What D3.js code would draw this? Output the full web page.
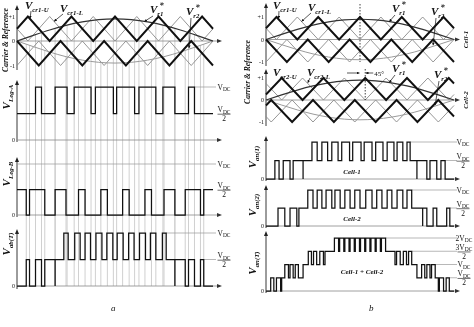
<!DOCTYPE html>
<html><head><meta charset="utf-8">
<script src="https://cdn.jsdelivr.net/npm/d3@7"></script>
<style>
html,body{margin:0;padding:0;background:#fff;}
svg{display:block;will-change:transform;}
text{font-family:"Liberation Serif","Times New Roman",serif;fill:#111;}
</style></head><body>
<svg id="fig" width="474" height="327"></svg>
<script>
// ---- Data: one half cycle of the fundamental, phase angle in degrees ----
const refAngles  = [0, 15, 30, 45, 60, 75, 90, 105, 120, 135, 150, 165, 180];
const ref1Values = [0, 0.23, 0.45, 0.64, 0.78, 0.87, 0.90, 0.87, 0.78, 0.64, 0.45, 0.23, 0];
const ref2Values = [0, -0.23, -0.45, -0.64, -0.78, -0.87, -0.90, -0.87, -0.78, -0.64, -0.45, -0.23, 0];

// Carrier vertices [angle, value] – cell 1 (also used in the single-cell plot)
const c1UpperThick = [[0,0.5],[10,1],[30,0],[50,1],[70,0],[90,1],[110,0],[130,1],[150,0],[170,1],[180,0.5]];
const c1UpperThin  = [[0,0.5],[10,0],[30,1],[50,0],[70,1],[90,0],[110,1],[130,0],[150,1],[170,0],[180,0.5]];
const c1LowerThick = [[0,0],[20,-1],[40,0],[60,-1],[80,0],[100,-1],[120,0],[140,-1],[160,0],[180,-1]];
const c1LowerThin  = [[0,-1],[20,0],[40,-1],[60,0],[80,-1],[100,0],[120,-1],[140,0],[160,-1],[180,0]];
// Cell 2 carriers, displaced by 45° of the carrier period
const c2UpperThick = [[0,0.25],[15,1],[35,0],[55,1],[75,0],[95,1],[115,0],[135,1],[155,0],[175,1],[180,0.75]];
const c2UpperThin  = [[0,0.75],[15,0],[35,1],[55,0],[75,1],[95,0],[115,1],[135,0],[155,1],[175,0],[180,0.25]];
const c2LowerThick = [[0,-0.25],[5,0],[25,-1],[45,0],[65,-1],[85,0],[105,-1],[125,0],[145,-1],[165,0],[180,-0.75]];
const c2LowerThin  = [[0,-0.75],[5,-1],[25,0],[45,-1],[65,0],[85,-1],[105,0],[125,-1],[145,0],[165,-1],[180,-0.25]];

// Switched voltages as [angle, level] steps, level in units of V_DC/2
const legASteps = [[0,1],[17,2],[22.5,1],[35,2],[46,1],[52.5,2],[68,1],[72,2],[88.5,1],[91.5,2],[108,1],[112,2],[127.5,1],[134,2],[145,1],[157.5,2],[163,1],[180,1]];
const legBSteps = [[0,1],[8.5,0],[11.5,1],[25.5,0],[35,1],[45,0],[56.5,1],[62.5,0],[77,1],[83,0],[97,1],[103,0],[117.5,1],[123.5,0],[135,1],[145,0],[154.5,1],[168.5,0],[171.5,1],[180,1]];
const vabSteps  = [[0,0],[8.5,1],[11.5,0],[17,1],[22.5,0],[25.5,1],[35,0],[35,1],[43,2],[47,1],[53,2],[58,1],[62.5,2],[67.5,1],[72.5,2],[78,1],[82.5,2],[88,1],[92,2],[97.5,1],[102.5,2],[107.5,1],[112.5,2],[118,1],[122.5,2],[127.5,1],[133.5,2],[137,1],[145,0],[145,1],[154.5,0],[157.5,1],[163,0],[168.5,1],[171.5,0],[180,0]];
const an1Steps  = [[0,0],[8.5,1],[12.5,0],[16.5,1],[23,0],[26,1],[35.5,0],[35.5,1],[44,2],[49,1],[53.5,2],[59,1],[63,2],[69,1],[72.5,2],[80,1],[83,2],[91,1],[94,2],[101.5,1],[105,2],[112,1],[116,2],[122.5,1],[125.5,2],[131,1],[135,2],[138,1],[144.5,0],[144.5,1],[154,0],[157,1],[163.5,0],[167.5,1],[171.5,0],[180,0]];
const an2Steps  = [[0,0],[11.5,1],[18,0],[23,1],[29.5,0],[31.5,1],[40,2],[45,1],[49,2],[53.5,1],[57.5,2],[63,1],[66,2],[71,1],[75.5,2],[80.5,1],[85,2],[90,1],[95.5,2],[101.5,1],[106,2],[111,1],[116,2],[120.5,1],[125.5,2],[131,1],[135,2],[139.5,1],[150,0],[150,1],[154,0],[160,1],[163.5,0],[173,1],[176,0],[180,0]];
const anTSteps  = [[0,0],[4.5,1],[7.5,0],[10,1],[14,0],[15,1],[18,2],[21.5,1],[23,2],[26,1],[28,2],[31,1],[35.5,2],[40.5,3],[43.5,2],[45.5,3],[48.5,2],[51.5,3],[55,2],[56.5,3],
  [65.5,4],[69.5,3],[70.5,4],[74.5,3],[75.5,4],[79.5,3],[80.5,4],[84.5,3],[85.5,4],[89.5,3],[90.5,4],[94.5,3],[95.5,4],[99.5,3],[100.5,4],[104.5,3],[105.5,4],[109.5,3],[110.5,4],[114.5,3],
  [123.5,2],[125,3],[128.5,2],[131.5,3],[134.5,2],[136.5,3],[139.5,2],[144.5,1],[149,2],[152,1],[154,2],[157,1],[158.5,2],[162,1],[165,0],[166,1],[170,0],[172.5,1],[175.5,0],[180,0]];

// ---- Scales ----
const svg = d3.select('#fig');
const xA = d3.scaleLinear().domain([0,180]).range([17,213]);
const xB = d3.scaleLinear().domain([0,180]).range([266,454]);
const yCarA  = d3.scaleLinear().domain([-1,1]).range([65.5,16.5]);
const yCarB1 = d3.scaleLinear().domain([-1,1]).range([62,17]);
const yCarB2 = d3.scaleLinear().domain([-1,1]).range([122,78]);
const yLegA = d3.scaleLinear().domain([0,2]).range([140,87]);
const yLegB = d3.scaleLinear().domain([0,2]).range([215,164]);
const yVab  = d3.scaleLinear().domain([0,2]).range([286,233]);
const yAn1  = d3.scaleLinear().domain([0,2]).range([179,142]);
const yAn2  = d3.scaleLinear().domain([0,2]).range([226,190]);
const yAnT  = d3.scaleLinear().domain([0,4]).range([291,238]);
const ref1 = d3.scaleLinear().domain(refAngles).range(ref1Values);
const ref2 = d3.scaleLinear().domain(refAngles).range(ref2Values);

const defs = svg.append('defs');
defs.append('marker').attr('id','ah').attr('viewBox','0 0 6 6').attr('refX',6).attr('refY',3)
  .attr('markerWidth',4).attr('markerHeight',4).attr('orient','auto')
  .append('path').attr('d','M0,0L6,3L0,6Z').attr('fill','#111');

const gGuide = svg.append('g');
const gAxis = svg.append('g');
const gMarks = svg.append('g');
const gText = svg.append('g');

// ---- Helpers ----
function arrowUp(x, y){ gAxis.append('path').attr('d',`M${x},${y}L${x-2},${y+5}L${x+2},${y+5}Z`).attr('fill','#222'); }
function arrowRight(x, y){ gAxis.append('path').attr('d',`M${x},${y}L${x-5},${y-2}L${x-5},${y+2}Z`).attr('fill','#333'); }
function axes(x0, x1, yTop, yBot, yZero){
  gAxis.append('line').attr('x1',x0).attr('x2',x0).attr('y1',yBot).attr('y2',yTop+4).attr('stroke','#222').attr('stroke-width',0.9);
  arrowUp(x0, yTop);
  gAxis.append('line').attr('x1',x0).attr('x2',x1-4).attr('y1',yZero).attr('y2',yZero).attr('stroke','#888').attr('stroke-width',0.8);
  arrowRight(x1, yZero);
}
function tick(x, y, s){
  gText.append('text').attr('x',x).attr('y',y+2).attr('font-size',6).attr('text-anchor','end').attr('fill','#444').text(s);
}
function curve(data, x, y, stroke, width){
  gMarks.append('path').datum(data).attr('fill','none').attr('stroke',stroke).attr('stroke-width',width)
    .attr('stroke-linejoin','miter')
    .attr('d', d3.line().x(d=>x(d[0])).y(d=>y(d[1])));
}
function refCurve(vals, x, y, stroke, width){
  gMarks.append('path').datum(refAngles.map((a,i)=>[a,vals[i]])).attr('fill','none')
    .attr('stroke',stroke).attr('stroke-width',width)
    .attr('d', d3.line().curve(d3.curveNatural).x(d=>x(d[0])).y(d=>y(d[1])));
}
function steps(data, x, y){
  gMarks.append('path').datum(data).attr('fill','none').attr('stroke','#111').attr('stroke-width',1.25)
    .attr('d', d3.line().curve(d3.curveStepAfter).x(d=>x(d[0])).y(d=>y(d[1])));
}
function lastAt(data, level){
  let t = 0;
  for (let i=0;i<data.length-1;i++) if (data[i][1]===level) t = data[i+1][0];
  return t;
}
function leader(data, level, x, y){
  const t = lastAt(data, level);
  gAxis.append('line').attr('x1',x(t)).attr('x2',x(180)+3).attr('y1',y(level)).attr('y2',y(level))
    .attr('stroke','#999').attr('stroke-width',0.7);
}
function vdc(x, y, coef){
  const t = gText.append('text').attr('x',x).attr('y',y+2.5).attr('font-size',7.5).attr('text-anchor','middle');
  t.append('tspan').text(coef+'V');
  t.append('tspan').attr('font-size',5.5).attr('dy',1.5).text('DC');
}
function vdcHalf(x, y, coef){
  const t = gText.append('text').attr('x',x).attr('y',y-1.5).attr('font-size',7.5).attr('text-anchor','middle');
  t.append('tspan').text(coef+'V');
  t.append('tspan').attr('font-size',5.5).attr('dy',1.5).text('DC');
  gText.append('line').attr('x1',x-6.5).attr('x2',x+6.5).attr('y1',y+0.7).attr('y2',y+0.7).attr('stroke','#111').attr('stroke-width',0.6);
  gText.append('text').attr('x',x).attr('y',y+7.5).attr('font-size',7.5).attr('text-anchor','middle').text('2');
}
function vName(x, y, sub, size, rotate, anchor, star){
  const t = gText.append('text').attr('x',x).attr('y',y).attr('font-size',size)
    .attr('font-style','italic').attr('font-weight','bold').attr('text-anchor',anchor||'start');
  if (rotate) t.attr('transform',`rotate(${rotate},${x},${y})`);
  t.append('tspan').text('V');
  t.append('tspan').attr('font-size',size*0.62).attr('dy',size*0.28).text(sub);
  if (star) t.append('tspan').attr('font-size',size*0.75).attr('dy',-size*0.7).attr('dx',-size*0.35).text('*');
  return t;
}
function pointer(x1, y1, x2, y2){
  gText.append('line').attr('x1',x1).attr('y1',y1).attr('x2',x2).attr('y2',y2)
    .attr('stroke','#111').attr('stroke-width',0.7).attr('marker-end','url(#ah)');
}
function rotText(x, y, s, size, rot){
  gText.append('text').attr('x',x).attr('y',y).attr('font-size',size).attr('font-style','italic')
    .attr('font-weight','bold').attr('text-anchor','middle').attr('transform',`rotate(${rot||-90},${x},${y})`).text(s);
}
function edgesOf(data){
  const e=[];
  for (let i=1;i<data.length;i++) if (data[i][1]!==data[i-1][1] && data[i][0]>0 && data[i][0]<180) e.push(data[i][0]);
  return e;
}

// ================= Panel a: single cell =================
// switching instants carried down through all traces
edgesOf(legASteps).forEach(t=>{
  gGuide.append('line').attr('x1',xA(t)).attr('x2',xA(t)).attr('y1',yCarA(ref1(t))).attr('y2',yVab(0))
    .attr('stroke','#c4c4c4').attr('stroke-width',0.8);
});
edgesOf(legBSteps).forEach(t=>{
  gGuide.append('line').attr('x1',xA(t)).attr('x2',xA(t)).attr('y1',yCarA(ref2(t))).attr('y2',yVab(0))
    .attr('stroke','#c4c4c4').attr('stroke-width',0.8);
});

axes(xA(0), 222, 5, 70, yCarA(0));
tick(15, yCarA(1), '+1'); tick(15, yCarA(0), '0'); tick(15, yCarA(-1), '-1');
curve(c1UpperThin, xA, yCarA, '#8a8a8a', 0.9);
curve(c1LowerThin, xA, yCarA, '#8a8a8a', 0.9);
refCurve(ref2Values, xA, yCarA, '#9a9a9a', 1);
refCurve(ref1Values, xA, yCarA, '#333', 1.2);
curve(c1UpperThick, xA, yCarA, '#111', 1.9);
curve(c1LowerThick, xA, yCarA, '#111', 1.9);
rotText(8, 40, 'Carrier & Reference', 7.5);
vName(25, 9, 'cr1-U', 11);
pointer(31, 11, xA(12), yCarA(0.92));
vName(60, 12, 'cr1-L', 11);
pointer(63, 14, xA(34), yCarA(0.8));
vName(150, 13, 'r1', 11, 0, 'start', true);
pointer(153, 16, xA(117), yCarA(ref1(117)));
vName(186, 15, 'r2', 11, 0, 'start', true);
pointer(191, 18, xA(158), yCarA(ref2(158)) - 1);

// Leg A
axes(xA(0), 222, 80, 142, yLegA(0));
tick(15, yLegA(0), '0');
leader(legASteps, 2, xA, yLegA);
steps(legASteps, xA, yLegA);
vdc(224, yLegA(2), ''); vdcHalf(224, yLegA(1), '');
vName(10, 97, 'Leg-A', 11, -90, 'middle');

// Leg B
axes(xA(0), 222, 157, 217, yLegB(0));
tick(15, yLegB(0), '0');
leader(legBSteps, 2, xA, yLegB);
steps(legBSteps, xA, yLegB);
vdc(224, yLegB(2), ''); vdcHalf(224, yLegB(1), '');
vName(10, 174, 'Leg-B', 11, -90, 'middle');

// Cell output
axes(xA(0), 222, 229, 289, yVab(0));
tick(15, yVab(0), '0');
leader(vabSteps, 2, xA, yVab);
leader(vabSteps, 1, xA, yVab);
steps(vabSteps, xA, yVab);
vdc(224, yVab(2), ''); vdcHalf(224, yVab(1), '');
vName(10, 244, 'ab(T)', 11, -90, 'middle');

gText.append('text').attr('x',111).attr('y',311).attr('font-size',9).attr('font-style','italic').text('a');

// ================= Panel b: two cascaded cells =================
axes(xB(0), 460, 3, 66, yCarB1(0));
tick(264, yCarB1(1), '+1'); tick(264, yCarB1(0), '0'); tick(264, yCarB1(-1), '-1');
curve(c1UpperThin, xB, yCarB1, '#8a8a8a', 0.9);
curve(c1LowerThin, xB, yCarB1, '#8a8a8a', 0.9);
refCurve(ref2Values, xB, yCarB1, '#9a9a9a', 1);
refCurve(ref1Values, xB, yCarB1, '#333', 1.2);
curve(c1UpperThick, xB, yCarB1, '#111', 1.9);
curve(c1LowerThick, xB, yCarB1, '#111', 1.9);

axes(xB(0), 460, 69, 126, yCarB2(0));
tick(264, yCarB2(1), '+1'); tick(264, yCarB2(0), '0'); tick(264, yCarB2(-1), '-1');
curve(c2UpperThin, xB, yCarB2, '#8a8a8a', 0.9);
curve(c2LowerThin, xB, yCarB2, '#8a8a8a', 0.9);
refCurve(ref2Values, xB, yCarB2, '#9a9a9a', 1);
refCurve(ref1Values, xB, yCarB2, '#333', 1.2);
curve(c2UpperThick, xB, yCarB2, '#111', 1.9);
curve(c2LowerThick, xB, yCarB2, '#111', 1.9);

// 45° carrier displacement marker
gMarks.append('line').attr('x1',xB(90)).attr('x2',xB(90)).attr('y1',4).attr('y2',yCarB1(-1))
  .attr('stroke','#111').attr('stroke-width',0.8).attr('stroke-dasharray','1.5,1.5');
gMarks.append('line').attr('x1',xB(95)).attr('x2',xB(95)).attr('y1',69).attr('y2',yCarB2(0))
  .attr('stroke','#111').attr('stroke-width',0.8).attr('stroke-dasharray','1.5,1.5');
pointer(xB(90)-13, 73, xB(90)-0.5, 73);
pointer(xB(95)+8, 73, xB(95)+0.5, 73);
gText.append('text').attr('x',xB(95)+9).attr('y',76).attr('font-size',7).text('45°');

rotText(250, 72, 'Carrier & Reference', 7.5);
rotText(468, yCarB1(0), 'Cell-1', 7);
rotText(468, yCarB2(0), 'Cell-2', 7);
vName(273, 9, 'cr1-U', 11);
pointer(279, 11, xB(12), yCarB1(0.92));
vName(308, 11, 'cr1-L', 11);
pointer(311, 13, xB(34), yCarB1(0.8));
vName(392, 12, 'r1', 11, 0, 'start', true);
pointer(395, 15, xB(118), yCarB1(ref1(118)));
vName(431, 15, 'r2', 11, 0, 'start', true);
pointer(436, 18, xB(160), yCarB1(ref2(160)) - 1);

vName(273, 76, 'cr2-U', 11);
pointer(282, 78, xB(17), yCarB2(0.92));
vName(307, 76, 'cr2-L', 11);
pointer(310, 78, xB(40), yCarB2(0.78));
vName(392, 72, 'r1', 11, 0, 'start', true);
pointer(395, 75, xB(118), yCarB2(ref1(118)));
vName(434, 78, 'r2', 11, 0, 'start', true);
pointer(439, 81, xB(162), yCarB2(ref2(162)) - 1);

// Cell 1 output
axes(xB(0), 460, 136, 181, yAn1(0));
tick(264, yAn1(0), '0');
leader(an1Steps, 2, xB, yAn1);
leader(an1Steps, 1, xB, yAn1);
steps(an1Steps, xB, yAn1);
vdc(463, yAn1(2), ''); vdcHalf(463, yAn1(1), '');
vName(256, 157, 'an(1)', 11, -90, 'middle');
gText.append('text').attr('x',352).attr('y',174).attr('font-size',7).attr('font-style','italic').attr('font-weight','bold').attr('text-anchor','middle').text('Cell-1');

// Cell 2 output
axes(xB(0), 460, 185, 228, yAn2(0));
tick(264, yAn2(0), '0');
leader(an2Steps, 2, xB, yAn2);
leader(an2Steps, 1, xB, yAn2);
steps(an2Steps, xB, yAn2);
vdc(463, yAn2(2), ''); vdcHalf(463, yAn2(1), '');
vName(256, 205, 'an(2)', 11, -90, 'middle');
gText.append('text').attr('x',352).attr('y',221).attr('font-size',7).attr('font-style','italic').attr('font-weight','bold').attr('text-anchor','middle').text('Cell-2');

// Total phase voltage
axes(xB(0), 460, 231, 293, yAnT(0));
tick(264, yAnT(0), '0');
[4,3,2,1].forEach(l=>leader(anTSteps, l, xB, yAnT));
steps(anTSteps, xB, yAnT);
vdc(464, yAnT(4), '2'); vdcHalf(464, yAnT(3), '3'); vdc(464, yAnT(2), ''); vdcHalf(464, yAnT(1), '');
vName(256, 263, 'an(T)', 11, -90, 'middle');
gText.append('text').attr('x',362).attr('y',274).attr('font-size',7).attr('font-style','italic').attr('font-weight','bold').attr('text-anchor','middle').text('Cell-1 + Cell-2');

gText.append('text').attr('x',369).attr('y',311).attr('font-size',9).attr('font-style','italic').text('b');
</script>
</body></html>
